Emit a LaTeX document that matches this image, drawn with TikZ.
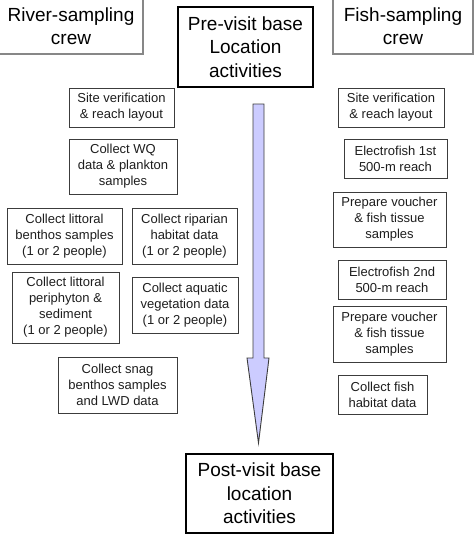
\documentclass[tikz,border=0pt]{standalone}
\usepackage{fontspec}
\setmainfont{Liberation Sans}
\usepackage{tikz}
\usetikzlibrary{calc}
\definecolor{arrowfill}{RGB}{204,204,255}
\definecolor{boxline}{RGB}{60,60,60}
\definecolor{crewline}{RGB}{135,135,135}
\definecolor{textgray}{RGB}{30,30,30}

\begin{document}
\begin{tikzpicture}[
    x=1pt, y=-1pt,
    crew/.style={
		rectangle,
		draw=crewline,
		line width=1.6pt,
		align=center,
		inner sep=0pt,
		font=\fontsize{19}{23}\selectfont,
		fill=white
	},
	station/.style={
		rectangle,
		draw=black,
		line width=2.6pt,
		align=center,
		inner sep=0pt,
		font=\fontsize{19}{23.5}\selectfont,
		fill=white
	},
	task/.style={
		rectangle,
		draw=boxline,
		line width=0.9pt,
		align=center,
		inner sep=0pt,
		text=textgray,
		font=\fontsize{13}{16}\selectfont,
		fill=white
	}
  ]
\useasboundingbox (0,0) rectangle (474,535);

% // crews and base location
 \node [crew, minimum width=144, minimum height=55] (river) at (71,26.5) {River-sampling\\crew};
 \node [crew, minimum width=140, minimum height=55] (fish) at (403,26.5) {Fish-sampling\\crew};
 \node [station, minimum width=135, minimum height=80] (previsit) at (245.5,47) {Pre-visit base\\Location\\activities};
 \node [station, minimum width=147, minimum height=79] (postvisit) at (259.5,493.5) {Post-visit base\\location\\activities};

% // the time arrow
 \coordinate (arrtop) at (258.5,104);
 \coordinate (arrtip) at (258.5,443);
 \draw [draw=boxline, fill=arrowfill, line width=0.9pt, line join=miter]
   ($(arrtop)+(-5.5,0)$) -- ($(arrtop)+(5.5,0)$) -- ($(arrtip)+(5.5,-85)$)
   -- ($(arrtip)+(10.5,-85)$) -- (arrtip) -- ($(arrtip)+(-11.5,-85)$)
   -- ($(arrtip)+(-5.5,-85)$) -- cycle;

% // river-sampling tasks
 \node [task, minimum width=105, minimum height=39] (site1) at (121.5,107.5) {Site verification\\\& reach layout};
 \node [task, minimum width=108, minimum height=55] (wq) at (123,166.5) {Collect WQ\\data \& plankton\\samples};
 \node [task, minimum width=115, minimum height=56] (benthos) at (64.5,236) {Collect littoral\\benthos samples\\(1 or 2 people)};
 \node [task, minimum width=105, minimum height=56] (riparian) at (184.5,236) {Collect riparian\\habitat data\\(1 or 2 people)};
 \node [task, minimum width=107, minimum height=71] (periphyton) at (65.5,307.5) {Collect littoral\\periphyton \&\\sediment\\(1 or 2 people)};
 \node [task, minimum width=106, minimum height=56] (aquatic) at (185,305) {Collect aquatic\\vegetation data\\(1 or 2 people)};
 \node [task, minimum width=119, minimum height=56] (snag) at (117.5,385) {Collect snag\\benthos samples\\and LWD data};

% // fish-sampling tasks
 \node [task, minimum width=106, minimum height=39] (site2) at (391,107.5) {Site verification\\\& reach layout};
 \node [task, minimum width=103, minimum height=39] (efish1) at (395.5,158.5) {Electrofish 1st\\500-m reach};
 \node [task, minimum width=113, minimum height=55] (voucher1) at (389.5,219.5) {Prepare voucher\\\& fish tissue\\samples};
 \node [task, minimum width=108, minimum height=39] (efish2) at (392,279.5) {Electrofish 2nd\\500-m reach};
 \node [task, minimum width=113, minimum height=56] (voucher2) at (389.5,334) {Prepare voucher\\\& fish tissue\\samples};
 \node [task, minimum width=89, minimum height=39] (fishhab) at (382.5,394.5) {Collect fish\\habitat data};

\end{tikzpicture}
\end{document}
